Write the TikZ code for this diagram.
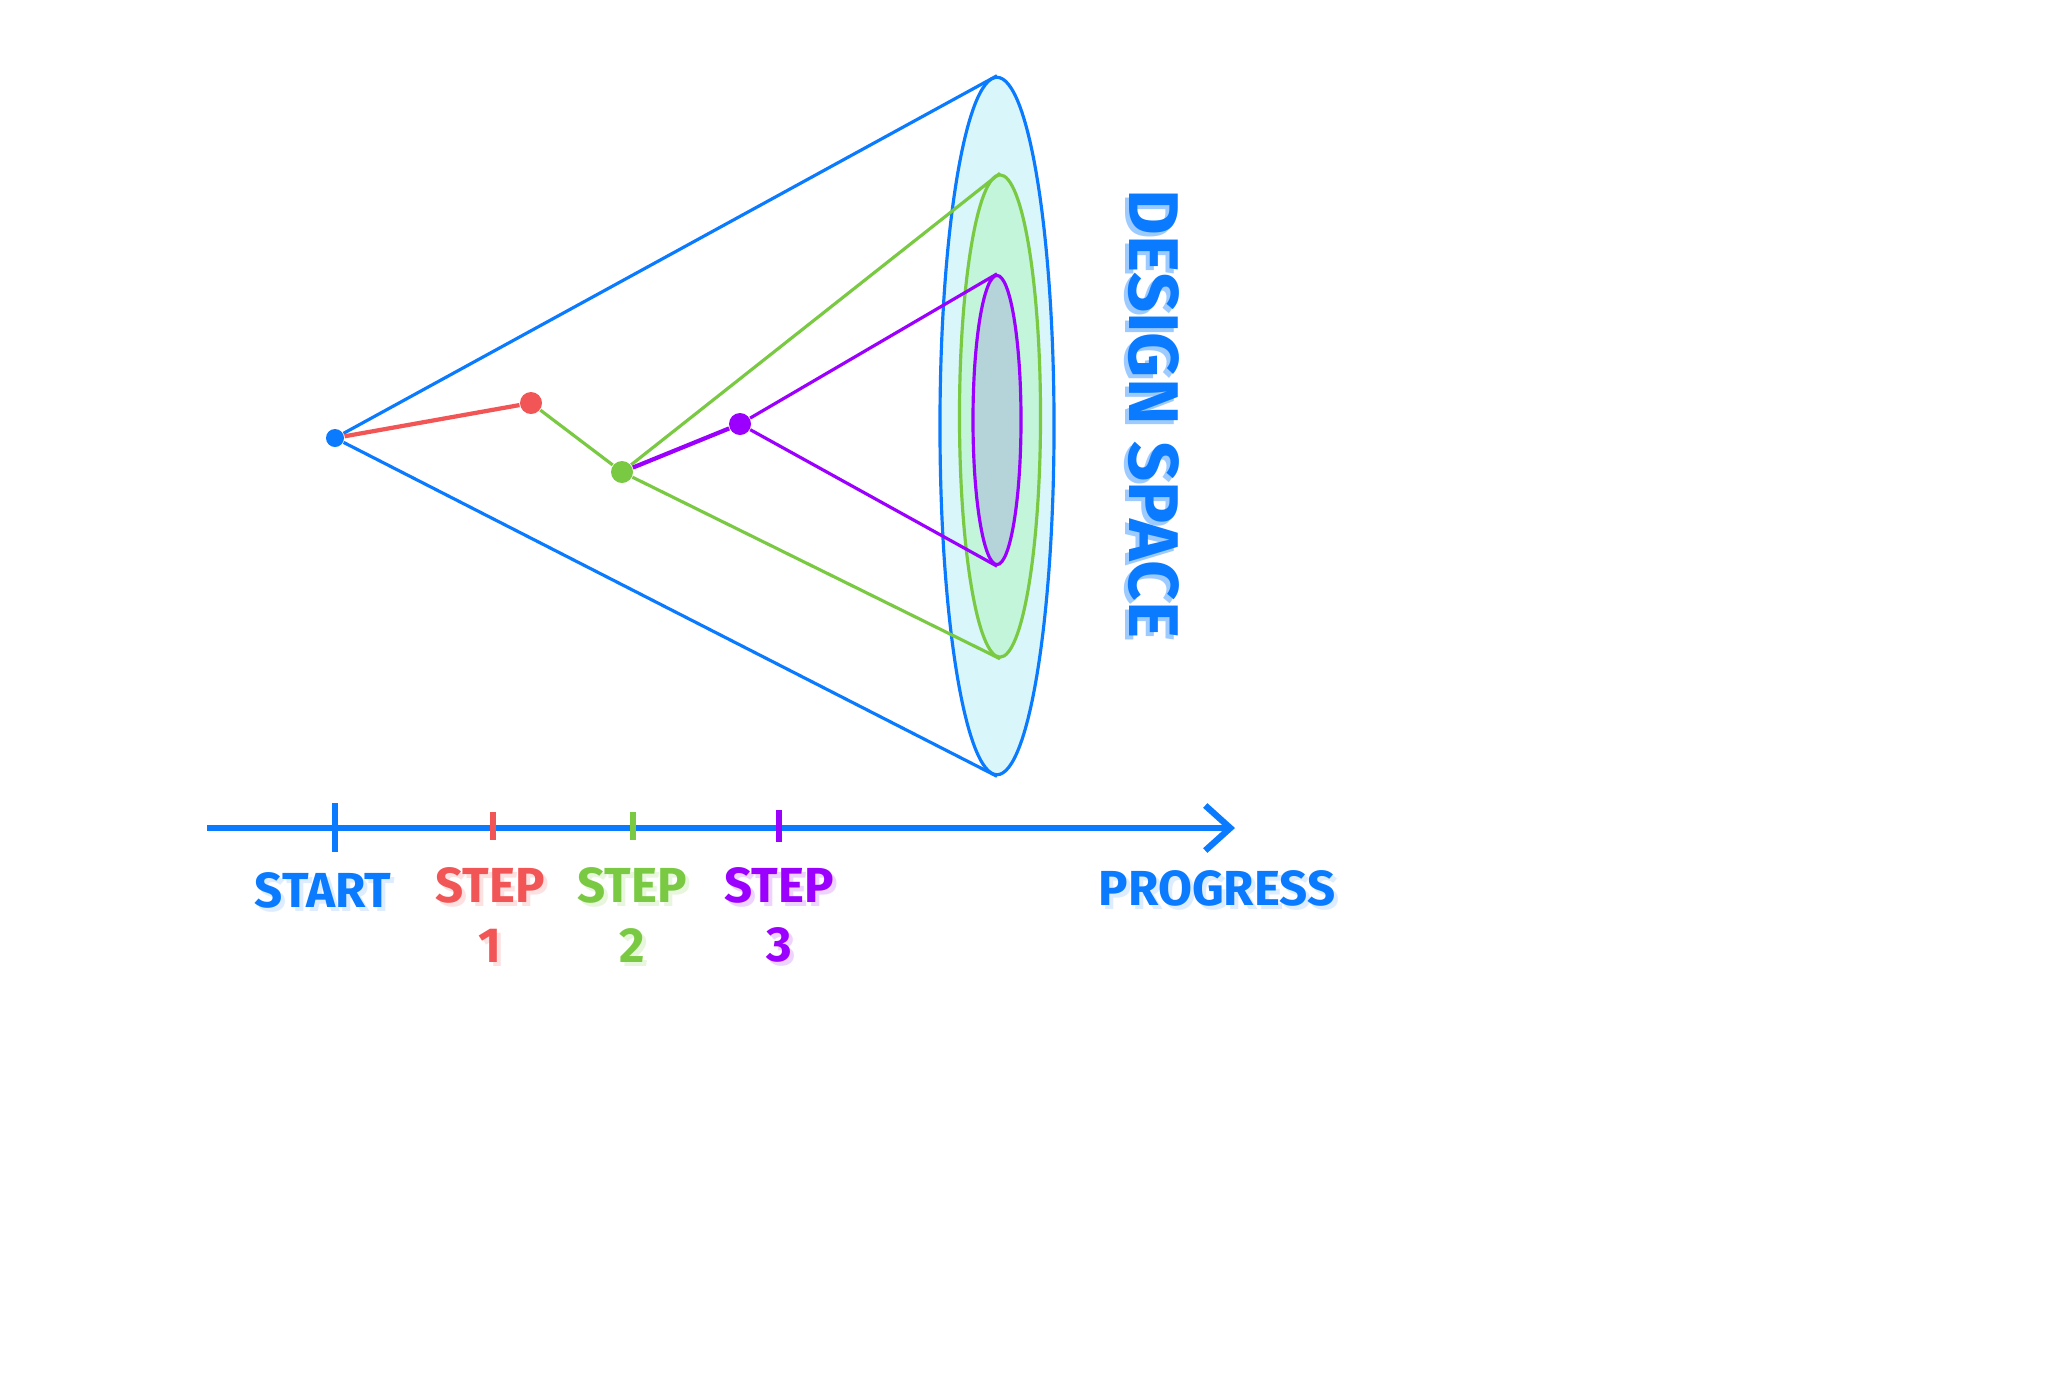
\documentclass[tikz,border=0pt]{standalone}
\usepackage{fontspec}
\setmainfont{Fira Sans}
\usetikzlibrary{shapes.geometric,arrows.meta}
\definecolor{cblue}{HTML}{0A7BFF}
\definecolor{cred}{HTML}{F25555}
\definecolor{cgreen}{HTML}{7AC943}
\definecolor{cpurple}{HTML}{9B00FF}
\definecolor{fblue}{HTML}{D9F6FB}
\definecolor{fgreen}{HTML}{C2F5D9}
\definecolor{fpurple}{HTML}{B5D4DA}
\begin{document}
\begin{tikzpicture}[x=0.01cm,y=-0.01cm,
  ring/.style={ellipse,draw,line width=0.9pt,inner sep=0},
  cone/.style={line width=0.9pt},
  dot/.style={circle,fill,inner sep=0,minimum size=0.22cm},
  lab/.style={font=\fontsize{14}{17}\selectfont\bfseries,align=center},
  shad/.style={lab,opacity=0.35}]
\useasboundingbox (0,0) rectangle (2060,1384);
\node[ring,draw=cblue,fill=fblue,minimum width=1.14cm,minimum height=6.97cm] (outer) at (997,426) {};
\node[ring,draw=cgreen,fill=fgreen,minimum width=0.81cm,minimum height=4.82cm] (gring) at (1000,416) {};
\node[ring,draw=cpurple,fill=fpurple,minimum width=0.48cm,minimum height=2.89cm] (pring) at (997,420) {};
\node[dot,fill=cblue,minimum size=0.18cm] (start) at (335,438) {};
\node[dot,fill=cred] (s1) at (531,403) {};
\node[dot,fill=cgreen] (s2) at (622,472) {};
\node[dot,fill=cpurple] (s3) at (740,424) {};
\draw[cone,cblue] (start) -- (outer.north);
\draw[cone,cblue] (start) -- (outer.south);
\draw[cone,cred,line width=1.2pt] (start) -- (s1);
\draw[cone,cgreen] (s1) -- (s2);
\draw[cone,cgreen] (s2) -- (gring.north);
\draw[cone,cgreen] (s2) -- (gring.south);
\draw[cone,cpurple,line width=1.2pt] (s2) -- (s3);
\draw[cone,cpurple] (s3) -- (pring.north);
\draw[cone,cpurple] (s3) -- (pring.south);
% axis
\coordinate (a0) at (207,828);
\coordinate (a1) at (1235,828);
\draw[cblue,line width=1.8pt,-{Straight Barb[length=0.25cm,width=0.45cm]}] (a0) -- (a1);
\draw[cblue,line width=1.8pt] (335,803) -- (335,852);
\draw[cred,line width=1.8pt] (493,812) -- (493,840);
\draw[cgreen,line width=1.8pt] (633,812) -- (633,840);
\draw[cpurple,line width=1.8pt] (779,810) -- (779,842);
% labels
\node[shad,text=cblue!40] at (327,894) {START};
\node[lab,text=cblue] (tstart) at (323,890) {START};
\node[shad,text=cred!50] at (494,919) {STEP\\1};
\node[lab,text=cred] (t1) at (490,915) {STEP\\1};
\node[shad,text=cgreen!50] at (636,919) {STEP\\2};
\node[lab,text=cgreen] (t2) at (632,915) {STEP\\2};
\node[shad,text=cpurple!50] at (783,919) {STEP\\3};
\node[lab,text=cpurple] (t3) at (779,915) {STEP\\3};
\node[shad,text=cblue!40] at (1221,892) {PROGRESS};
\node[lab,text=cblue] (tprog) at (1217,888) {PROGRESS};
\node[lab,font=\fontsize{20}{24}\selectfont\bfseries,text=cblue!40,rotate=-90] at (1150,418) {DESIGN SPACE};
\node[lab,font=\fontsize{20}{24}\selectfont\bfseries,text=cblue,rotate=-90] (ds) at (1154,414) {DESIGN SPACE};
\end{tikzpicture}
\end{document}
